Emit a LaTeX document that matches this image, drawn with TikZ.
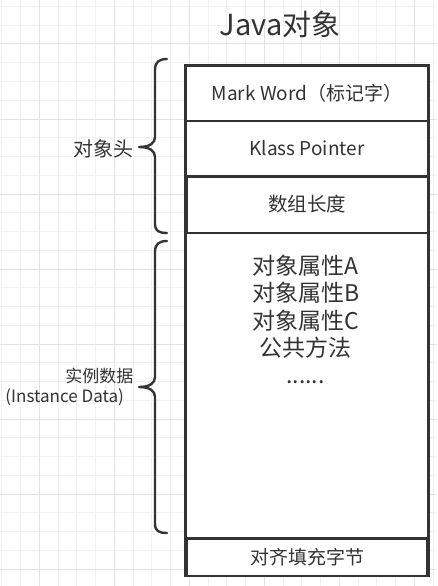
\documentclass[tikz,border=0pt]{standalone}
\usepackage{fontspec}
\setmainfont{Noto Sans CJK SC}
\definecolor{ink}{HTML}{333333}
\definecolor{gmin}{HTML}{F0F0F0}
\definecolor{gmaj}{HTML}{E2E2E2}
\begin{document}
\begin{tikzpicture}[x=1pt,y=-1pt,
  box/.style={draw=ink, line width=2.6pt, fill=white, inner sep=0pt, anchor=north west, text=ink},
  lbl/.style={text=ink, inner sep=0pt},
  brc/.style={draw=ink, line width=2.4pt, line cap=round, line join=round}]
\useasboundingbox (0,0) rectangle (437,586);
\fill[white] (0,0) rectangle (437,586);
% grid
\foreach \i in {0,...,23} { \draw[gmin, line width=1pt] ({1.8+18.75*\i},0) -- ({1.8+18.75*\i},586); }
\foreach \i in {0,...,30} { \draw[gmin, line width=1pt] (0,{6.5+18.75*\i}) -- (437,{6.5+18.75*\i}); }
\foreach \i in {0,...,5} { \draw[gmaj, line width=1pt] ({39.3+75*\i},0) -- ({39.3+75*\i},586); }
\foreach \i in {0,...,7} { \draw[gmaj, line width=1pt] (0,{44+75*\i}) -- (437,{44+75*\i}); }
% title
\node[lbl, font=\fontsize{29}{31}\selectfont] (title) at (280,24) {Java对象};
% object boxes
\node[box, minimum width=243.3pt, minimum height=510.5pt] (obj) at (184,64) {};
\node[lbl, font=\fontsize{23}{27.4}\selectfont, align=center] (attrs) at (305.6,319.5)
  {对象属性A\\对象属性B\\对象属性C\\公共方法\\......};
\node[box, minimum width=243.3pt, minimum height=55.5pt, font=\fontsize{19}{21}\selectfont] (mw) at (184,64) {Mark Word（标记字）};
\node[box, minimum width=243.3pt, minimum height=55.5pt, font=\fontsize{19}{21}\selectfont] (kp) at (184,119.5) {Klass Pointer};
\node[box, minimum width=241pt, minimum height=56.5pt, font=\fontsize{19.5}{21}\selectfont] (len) at (185.5,175) {数组长度};
\node[box, minimum width=240.5pt, minimum height=37.5pt, font=\fontsize{19}{21}\selectfont] (pad) at (185.5,537) {对齐填充字节};
% braces
\draw[brc] (167,59) .. controls (159,59) and (155,62) .. (155,70) -- (155,137)
  .. controls (155,143) and (150,147) .. (139,147)
  .. controls (150,147) and (155,151) .. (155,157) -- (155,224)
  .. controls (155,231) and (159,233) .. (167,233);
\draw[brc] (167,241) .. controls (159,241) and (155,244) .. (155,252) -- (155,377)
  .. controls (155,383) and (150,387) .. (139,387)
  .. controls (150,387) and (155,391) .. (155,397) -- (155,524)
  .. controls (155,531) and (159,533) .. (167,533);
% labels
\node[lbl, font=\fontsize{20}{22}\selectfont, anchor=east] (hdr) at (134,148.5) {对象头};
\node[lbl, font=\fontsize{17}{20}\selectfont, align=right, anchor=east] (inst) at (133.5,387.2)
  {实例数据\\(Instance Data)\rule{9.4pt}{0pt}};
\end{tikzpicture}
\end{document}
